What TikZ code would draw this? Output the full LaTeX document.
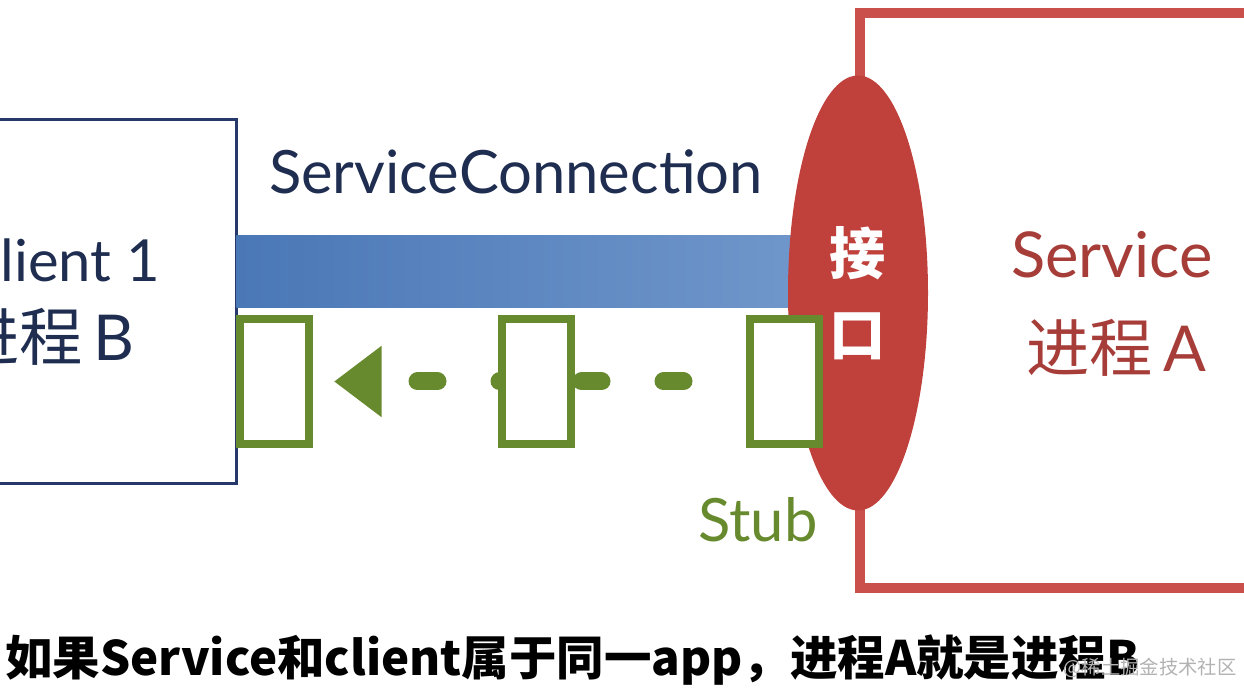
\documentclass[tikz,border=0pt]{standalone}
\usepackage{fontspec}
\setmainfont{Lato}
\newfontfamily\cjk{Noto Sans CJK SC}
\usetikzlibrary{arrows.meta,shapes.geometric,backgrounds}

\definecolor{navy}{HTML}{26396A}
\definecolor{darknavy}{HTML}{1E2D50}
\definecolor{barleft}{HTML}{4A77B6}
\definecolor{barright}{HTML}{7097CB}
\definecolor{olive}{HTML}{688A2E}
\definecolor{brick}{HTML}{C0413C}
\definecolor{brickline}{HTML}{CA504B}
\definecolor{bricktext}{HTML}{A63D38}

\begin{document}
\begin{tikzpicture}[
    stubbox/.style={draw=olive,line width=0.16cm,fill=white,minimum width=1.38cm,minimum height=2.5cm,inner sep=0pt},
    bigtext/.style={font=\fontsize{36}{43}\selectfont,inner sep=0pt}
  ]
  \useasboundingbox (0,0) rectangle (24.88,14);
  \clip (0,0) rectangle (24.88,14);

  % Processes
  \node[draw=brickline,line width=0.2cm,minimum width=10.8cm,minimum height=11.5cm] (service) at (22.6,7.99) {};
  \node[draw=navy,line width=0.06cm,minimum width=10.72cm,minimum height=7.28cm] (client) at (-0.64,7.96) {};

  % Connection
  \node[left color=barleft,right color=barright,minimum width=11.28cm,minimum height=1.44cm,inner sep=0pt,anchor=west] (conn) at (4.72,8.56) {};
  \node[bigtext,darknavy,font=\fontsize{34}{41}\selectfont] (connname) at (10.32,10.56) {ServiceConnection};

  % Interface
  \node[ellipse,fill=brick,minimum width=2.8cm,minimum height=8.7cm,inner sep=0pt,text=white,align=center,font=\cjk\bfseries\fontsize{32}{46}\selectfont] (iface) at (17.16,8.14) {接\\口};

  % Stubs
  \node[stubbox] (proxy) at (5.49,6.37) {};
  \node[stubbox] (relay) at (10.72,6.37) {};
  \node[stubbox] (stub) at (15.68,6.37) {};
  \begin{scope}[on background layer]
    \draw[olive,line width=0.36cm,line cap=round,dash pattern=on 0.4cm off 1.24cm,dash phase=0.4cm,
      -{Triangle[length=0.95cm,width=1.36cm]},shorten >=0.42cm] (stub.west) -- (proxy.east);
  \end{scope}

  % Labels
  \node[bigtext,darknavy,font=\fontsize{33}{40}\selectfont] (clientname) at (1.22,8.8) {Client 1};
  \node[bigtext,darknavy] (clientproc) at (0.9,7.26) {{\cjk 进程}\,B};
  \node[bigtext,olive,font=\fontsize{34}{41}\selectfont] (stubname) at (15.16,3.6) {Stub};
  \node[bigtext,bricktext] (servicename) at (22.24,8.9) {Service};
  \node[bigtext,bricktext] (serviceproc) at (22.32,7.04) {{\cjk 进程}\,A};

  % Note
  \node[anchor=west,inner sep=0pt,font=\cjk\bfseries\fontsize{27}{32}\selectfont] (note) at (0.1,0.8) {如果Service和client属于同一app，进程A就是进程B};
  \node[gray!60,inner sep=0pt,font=\cjk\fontsize{11}{13}\selectfont] (mark) at (23.0,0.64) {@稀土掘金技术社区};
\end{tikzpicture}
\end{document}
